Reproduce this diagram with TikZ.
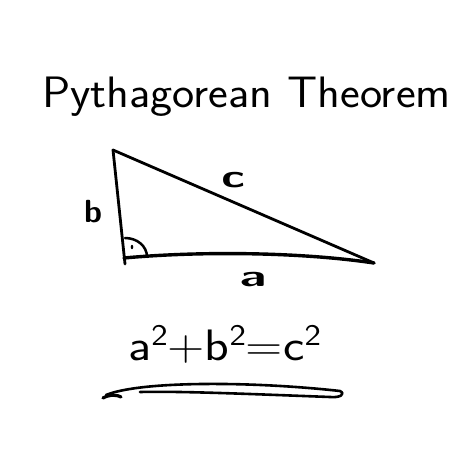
\documentclass[tikz,border=0pt]{standalone}
\newcommand{\supr}[1]{\raisebox{15pt}{\fontsize{30}{30}\selectfont #1}}
\begin{document}
\begin{tikzpicture}[x=1pt,y=-1pt,
  pen/.style={line width=2.8pt, line cap=round, line join=round, black},
  hand/.style={inner sep=0pt, text=black}]
\useasboundingbox (0,0) rectangle (474,474);
\fill[white] (0,0) rectangle (474,474);
% title
\node[hand, font=\sffamily\fontsize{44}{44}\selectfont, anchor=base west, xscale=1.07] (title) at (42,107) {Pythagorean Theorem};
% triangle vertices
\coordinate (A) at (113,150);
\coordinate (B) at (125,264);
\coordinate (Bl) at (124,258);
\coordinate (C) at (374,263);
\draw[pen] (A) -- (B);
\draw[pen] (A) -- (C);
\draw[pen, line width=3.4pt] (Bl) .. controls (200,251) and (300,252) .. (C);
% right angle mark
\coordinate (r1) at (125,238);
\coordinate (r2) at (147,257);
\draw[pen, line width=2.5pt] (r1) .. controls (137,238) and (147,246) .. (r2);
\fill (132,247) ellipse (1.3pt and 2.2pt);
% labels
\node[hand, font=\sffamily\bfseries\fontsize{32}{32}\selectfont] (lb) at (93,212) {b};
\node[hand, font=\sffamily\bfseries\fontsize{32}{32}\selectfont, xscale=1.5] (lc) at (233,180) {c};
\node[hand, font=\sffamily\bfseries\fontsize{30}{30}\selectfont, xscale=1.7] (la) at (253,280) {a};
% formula
\node[hand, font=\sffamily\fontsize{44}{44}\selectfont, anchor=base west, xscale=1.16] (eq) at (128,360)
  {a\supr{2}+b\supr{2}=c\supr{2}};
% double underline
\coordinate (u1) at (106,395);
\coordinate (u2) at (340,391);
\coordinate (u3) at (140,392);
\draw[pen, line width=2.6pt] (u1) .. controls (140,381) and (250,381) .. (u2)
  .. controls (346,394) and (340,398) .. (330,397)
  .. controls (250,394) and (180,391) .. (u3);
\draw[pen, line width=3.2pt] (103,398) .. controls (110,394) and (118,395) .. (121,397);
\end{tikzpicture}
\end{document}
